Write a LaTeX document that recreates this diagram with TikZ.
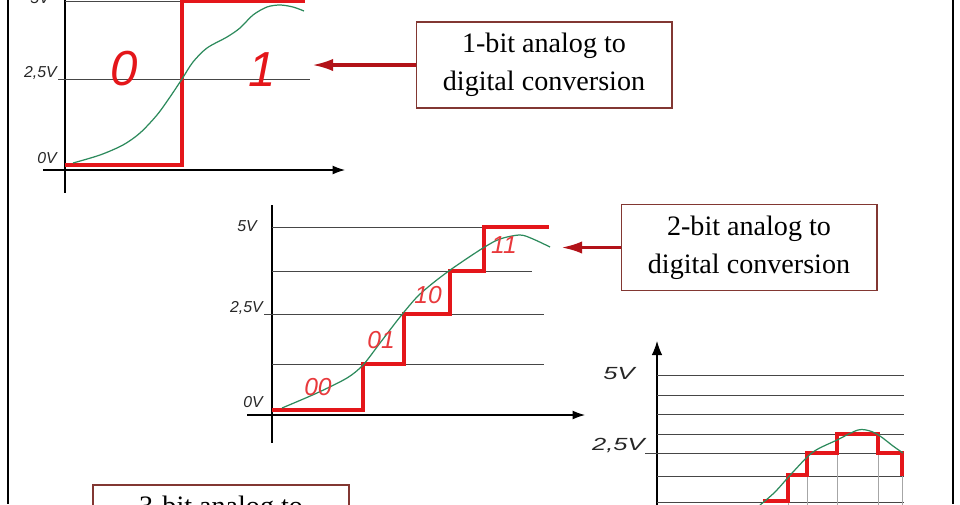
\documentclass[tikz,border=0pt]{standalone}
\usepackage{fontspec}
\setmainfont{Liberation Serif}
\newfontfamily\axisfont{Liberation Sans}
\definecolor{BoxRed}{RGB}{130, 55, 50}
\definecolor{ArrRed}{RGB}{178, 18, 24}
\definecolor{StepRed}{RGB}{228, 22, 26}
\definecolor{SigGreen}{RGB}{44, 138, 92}
\definecolor{GridGray}{RGB}{70, 70, 70}
\usetikzlibrary{arrows.meta}
\newcommand{\widelbl}[1]{\scalebox{1.45}[1]{#1}}

\begin{document}
\begin{tikzpicture}[x=0.02cm, y=-0.02cm, bx/.style={draw=BoxRed, line width=0.6pt, minimum width=5.12cm, minimum height=1.72cm, align=center, font=\fontsize{16}{21.5}\selectfont}, ar/.style={-{Latex[length=12pt, width=7pt]}, ArrRed, line width=1.8pt}, ax/.style={black, line width=0.6pt}, axa/.style={ax, -{Latex[length=7pt, width=5pt]}}, gl/.style={GridGray, line width=0.5pt}, sl/.style={gray!70, line width=0.4pt}, stp/.style={StepRed, line width=2.3pt}, sig/.style={SigGreen, line width=0.7pt}, lb/.style={font=\axisfont\itshape\fontsize{9}{10}\selectfont, anchor=south east, inner sep=0pt, text=black!85}, cd/.style={font=\axisfont\itshape\fontsize{14}{16}\selectfont, text=StepRed!85, inner sep=0pt}]
\useasboundingbox (0,0) rectangle (960,504);
\clip (0,0) rectangle (960,504);
\draw[line width=0.8pt] (8,0) -- (8,504); \draw[line width=0.8pt] (953,0) -- (953,504);
\node[bx] (b1) at (544,65) {1-bit analog to\\digital conversion};
\node[bx] (b2) at (749,247.5) {2-bit analog to\\digital conversion};
\node[bx] (b3) at (221,528) {3-bit analog to\\digital conversion};
\coordinate (t1) at (312,65);
\coordinate (t2) at (561,247.5);
\draw[ar] (b1.west) -- (t1); \draw[ar] (b2.west) -- (t2);
\draw[ax] (65,-5) -- (65,193); \draw[axa] (43,170) -- (345,170);
\draw[gl] (65,1) -- (305,1); \draw[gl] (58,79) -- (310,79);
\draw[stp] (65,165) -- (182,165) -- (182,1) -- (305,1);
\draw[sig] plot[smooth] coordinates {(73,163) (100,155) (123,145) (140,133) (157,115) (170,97) (182,79) (193,62) (207,48) (227,37) (240,28) (253,15) (267,7) (280,5) (293,7) (304,11)};
\node[lb] (a5) at (50,4) {5V}; \node[lb] (a25) at (57,80) {2,5V}; \node[lb] (a0) at (57,164) {0V};
\node[font=\axisfont\itshape\fontsize{28}{30}\selectfont, text=StepRed, inner sep=0pt] (d0) at (124,69) {0};
\node[font=\axisfont\itshape\fontsize{28}{30}\selectfont, text=StepRed, inner sep=0pt] (d1) at (262,70) {1};
\draw[ax] (272,205) -- (272,443); \draw[axa] (247,415) -- (585,415);
\draw[gl] (272,227) -- (543,227); \draw[gl] (272,271) -- (532,271); \draw[gl] (264,314) -- (544,314); \draw[gl] (272,364) -- (544,364);
\draw[stp] (272,410) -- (363,410) -- (363,364) -- (404,364) -- (404,314) -- (450,314) -- (450,271) -- (484,271) -- (484,227) -- (549,227);
\draw[sig] plot[smooth] coordinates {(282,408) (317,393) (347,378) (363,365) (380,343) (400,317) (417,297) (433,283) (453,268) (483,248) (500,239) (520,235) (533,239) (550,247)};
\node[lb] (m5) at (257,232) {5V}; \node[lb] (m25) at (263,315) {2,5V}; \node[lb] (m0) at (263,408) {0V};
\node[cd] (c00) at (318,387) {00}; \node[cd] (c01) at (381,340) {01}; \node[cd] (c10) at (428,295) {10}; \node[cd] (c11) at (504,245) {11};
\draw[ax, -{Latex[length=8pt, width=6pt]}] (657,520) -- (657,341);
\draw[gl] (657,375) -- (904,375); \draw[gl] (657,395) -- (904,395); \draw[gl] (657,414) -- (904,414); \draw[gl] (657,434) -- (904,434);
\draw[gl] (645,453) -- (904,453); \draw[gl] (657,476) -- (904,476); \draw[gl] (657,502) -- (904,502);
\draw[sl] (788,500) -- (788,510); \draw[sl] (807,476) -- (807,510); \draw[sl] (837,453) -- (837,510); \draw[sl] (878,453) -- (878,510); \draw[sl] (902,476) -- (902,510);
\draw[stp, line width=2.8pt] (763,501) -- (788,501) -- (788,475) -- (807,475) -- (807,453) -- (837,453) -- (837,434) -- (878,434) -- (878,453) -- (902,453) -- (902,476);
\draw[sig] plot[smooth] coordinates {(760,505) (775,492) (793,472) (813,452) (837,440) (858,430) (870,431) (880,436) (893,446) (903,453)};
\node[lb, font=\axisfont\itshape\fontsize{10}{12}\selectfont] (r5) at (635,380) {\widelbl{5V}};
\node[lb, font=\axisfont\itshape\fontsize{10}{12}\selectfont] (r25) at (645,453) {\widelbl{2,5V}};
\end{tikzpicture}
\end{document}
